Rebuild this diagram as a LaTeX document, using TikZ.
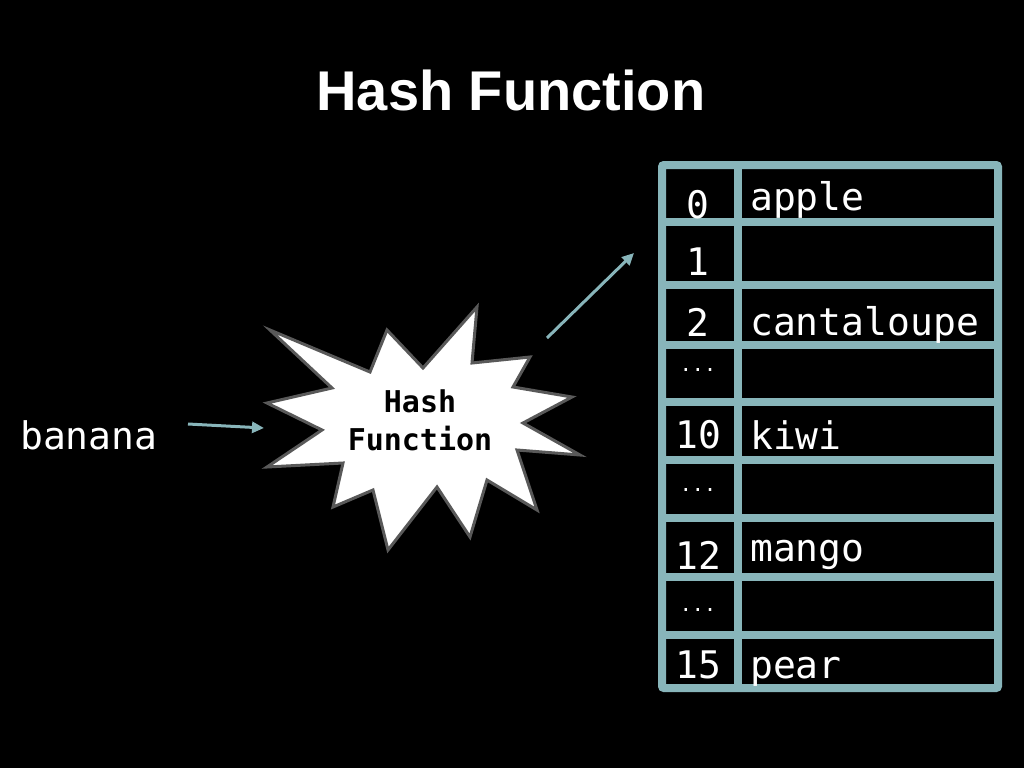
\documentclass[tikz,border=0pt]{standalone}
\usepackage{fontspec}
\usetikzlibrary{arrows.meta}
\setmainfont{Liberation Sans}
\newfontfamily\mono{DejaVu Sans Mono}
\begin{document}
\begin{tikzpicture}[x=1pt,y=-1pt,
  cellt/.style={font=\mono\fontsize{38}{38}\selectfont,text=white,inner sep=0pt},
  arr/.style={draw=arrc,line width=3pt,-{Triangle[length=12pt,width=11pt]}}]
\definecolor{arrc}{HTML}{88B5BA}
\definecolor{tabc}{HTML}{88B5BA}
\fill[black] (0,0) rectangle (1024,768);
\useasboundingbox (0,0) rectangle (1024,768);
\node[font=\bfseries\fontsize{56}{56}\selectfont,text=white] (title) at (511,90) {Hash Function};
% table
\draw[draw=tabc,line width=8pt,rounded corners=2pt] (662,165) rectangle (998,688);
\draw[draw=tabc,line width=8pt] (738,165) -- (738,688);
\foreach \y in {222,285,345,402,460,518,577,635} \draw[draw=tabc,line width=8pt] (662,\y) -- (998,\y);
\foreach \n/\t/\y in {i0/0/205,i1/1/262,i2/2/322,i10/10/435,i12/12/555,i15/15/665}
  \node[cellt,anchor=center] (\n) at (698,\y) {\t};
\foreach \n/\y in {d1/370,d2/490,d3/610}
  \node[cellt,font=\mono\fontsize{20}{20}\selectfont] (\n) at (698,\y) {...};
\foreach \n/\t/\y in {vapple/apple/200,vcant/cantaloupe/325,vkiwi/kiwi/435,vmango/mango/555,vpear/pear/672}
  \node[cellt,anchor=west] (\n) at (750,\y) {\t};
% starburst
\draw[fill=white,draw=gray!70!black,line width=3pt,line join=miter]
 (387,330) -- (423,368) -- (477,307) -- (472,363) -- (530,357) -- (513,387) -- (572,397) -- (523,423) -- (580,455) -- (517,450) -- (537,510) -- (487,480) -- (470,537) -- (437,487) -- (388,550) -- (373,490) -- (333,507) -- (343,463) -- (267,467) -- (322,430) -- (267,403) -- (332,388) -- (270,330) -- (370,372) -- cycle;
\node[font=\mono\bfseries\fontsize{30}{38}\selectfont,align=center,text=black] (hf) at (420,420) {Hash\\Function};
\coordinate (hin) at (264,428);
\coordinate (bout) at (188,424);
\coordinate (hout) at (547,338);
\coordinate (tin) at (634,253);
\node[cellt,anchor=west] (banana) at (20,435) {banana};
\draw[arr] (bout) -- (hin);
\draw[arr] (hout) -- (tin);
\end{tikzpicture}
\end{document}
